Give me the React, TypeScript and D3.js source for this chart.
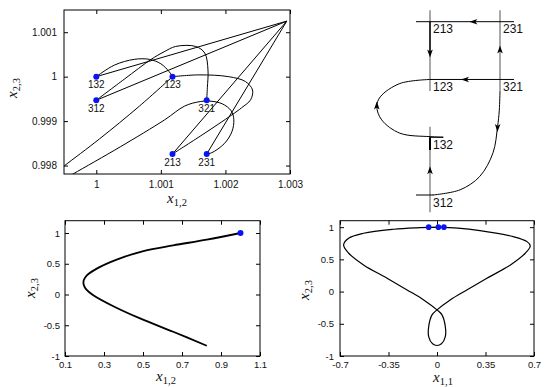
import React from 'react';
import * as d3 from 'd3';

// ---------- panel a: network near (1,1) ----------
const aXTicks = [1, 1.001, 1.002, 1.003];
const aYTicks = [0.998, 0.999, 1, 1.001];
const aNodeNames = ['132', '123', '312', '321', '213', '231'];
const aNodeX = [1, 1.00118, 1, 1.00171, 1.00118, 1.00171];
const aNodeY = [1, 1, 0.99947, 0.99947, 0.99826, 0.99826];
const aApex: [number, number] = [1.00295, 1.00125];

// connecting orbits, [x12, x23]
const arc132to123 = [[1, 1], [1.00028, 1.00026], [1.00059, 1.00039], [1.00082, 1.00039], [1.001, 1.00029], [1.00113, 1.00011], [1.00118, 1]];
const arc312to321 = [[1, 0.99947], [1.00044, 0.99995], [1.00085, 1.00039], [1.00105, 1.00056], [1.00123, 1.00068], [1.00154, 1.00068], [1.00168, 1.00053], [1.00173, 1.00015], [1.00172, 0.99975], [1.00171, 0.99947]];
const arc123toLow = [[1.00118, 1], [1.00067, 0.99934], [1.00005, 0.9986], [0.99951, 0.998], [0.99936, 0.99783]];
const arcLowTo231 = [[0.99944, 0.99764], [0.99964, 0.99781], [1.00037, 0.99842], [1.00106, 0.99903], [1.00137, 0.99934], [1.00161, 0.99944], [1.00176, 0.99945], [1.00195, 0.99939], [1.00209, 0.99923], [1.00213, 0.99903], [1.0021, 0.99876], [1.00198, 0.99849], [1.00179, 0.99829], [1.00171, 0.99826]];
const arc123to213 = [[1.00118, 1], [1.00159, 1.00004], [1.00205, 1], [1.00231, 0.99989], [1.00242, 0.9997], [1.00239, 0.99948], [1.00225, 0.9993], [1.0021, 0.99914], [1.00164, 0.99869], [1.00118, 0.99826]];

// ---------- panel b: schematic (column, row) ----------
const bNames = ['213', '231', '123', '321', '132', '312'];
const bCol = [0, 1, 0, 1, 0, 0];
const bRow = [0, 0, 1, 1, 2, 3];
const bGrayLines = [
  [[0, -0.2], [0, 1.2]],
  [[1, -0.2], [1, 1.2]],
  [[0, 1.82], [0, 3.3]],
];
const bBlackLines = [
  [[-0.2, 0], [1.2, 0]],
  [[0, 1], [1.2, 1]],
  [[0, 2], [0.19, 2]],
  [[-0.2, 3], [0.05, 3]],
];
const bLoop = [[0, 1], [-0.43, 1.07], [-0.71, 1.3], [-0.76, 1.47], [-0.69, 1.7], [-0.43, 1.93], [0, 1.99], [0.19, 2]];
const bRightCurve = [[1, 1.2], [0.99, 1.53], [0.965, 1.82], [0.9, 2.27], [0.71, 2.68], [0.43, 2.91], [0.04, 3]];
// arrows: position (col,row) and direction (dcol,drow)
const bArrows = [
  [0.62, 0, -1, 0],
  [0.5, 1, -1, 0],
  [0, 0.55, 0, 1],
  [1, 0.48, 0, -1],
  [-0.76, 1.45, 0, -1],
  [0.965, 1.84, -0.03, 1],
  [0, 2.57, 0, -1],
];

// ---------- panel c: projection on (x12, x23) ----------
const cXTicks = [0.1, 0.3, 0.5, 0.7, 0.9, 1.1];
const cYTicks = [-1, -0.5, 0, 0.5, 1];
const cX = [1.0, 0.827, 0.655, 0.502, 0.365, 0.263, 0.212, 0.196, 0.196, 0.21, 0.245, 0.348, 0.485, 0.655, 0.827];
const cY = [1.0, 0.891, 0.799, 0.707, 0.567, 0.421, 0.31, 0.23, 0.16, 0.08, -0.011, -0.19, -0.389, -0.606, -0.833];

// ---------- panel d: projection on (x11, x23) ----------
const dXTicks = [-0.7, -0.35, 0, 0.35, 0.7];
const dYTicks = [-1, -0.5, 0, 0.5, 1];
const dX = [0, 0.15, 0.31, 0.55, 0.65, 0.673, 0.637, 0.53, 0.36, 0.215, 0.095, 0, -0.036, -0.06, -0.06, -0.032, 0, 0.032, 0.06, 0.06, 0.036, 0, -0.096, -0.216, -0.36, -0.53, -0.637, -0.674, -0.638, -0.53, -0.313, -0.15, 0];
const dY = [1, 0.985, 0.946, 0.853, 0.775, 0.708, 0.595, 0.414, 0.207, 0.026, -0.129, -0.284, -0.361, -0.543, -0.698, -0.811, -0.837, -0.811, -0.698, -0.543, -0.361, -0.284, -0.129, 0.026, 0.207, 0.414, 0.595, 0.724, 0.828, 0.905, 0.967, 0.99, 1];
const dDotX = [-0.06, 0.01, 0.05];
const dDotY = [1, 1, 1];

const SANS = '"Liberation Sans", Arial, Helvetica, sans-serif';
const SERIF = '"Liberation Serif", "DejaVu Serif", serif';
const BLUE = '#0a14f0';

function drawAxes(g: any, x: any, y: any, xTicks: number[], yTicks: number[], xFmt: any, yFmt: any, fs: number, xPad: number, yPad: number) {
  const [x0, x1] = x.range();
  const [y0, y1] = y.range();
  g.append('g').attr('transform', `translate(0,${y0})`)
    .call(d3.axisBottom(x).tickValues(xTicks).tickSize(-4).tickPadding(xPad).tickFormat(xFmt));
  g.append('g').attr('transform', `translate(0,${y1})`)
    .call(d3.axisTop(x).tickValues(xTicks).tickSize(-4).tickFormat(() => ''));
  g.append('g').attr('transform', `translate(${x0},0)`)
    .call(d3.axisLeft(y).tickValues(yTicks).tickSize(-4).tickPadding(yPad).tickFormat(yFmt));
  g.append('g').attr('transform', `translate(${x1},0)`)
    .call(d3.axisRight(y).tickValues(yTicks).tickSize(-4).tickFormat(() => ''));
  g.selectAll('.domain').remove();
  g.selectAll('.tick line').attr('stroke', '#000');
  g.selectAll('.tick text').attr('font-family', SANS).attr('font-size', fs).attr('fill', '#111');
  g.append('rect')
    .attr('x', x0).attr('y', y1).attr('width', x1 - x0).attr('height', y0 - y1)
    .attr('fill', 'none').attr('stroke', '#000').attr('stroke-width', 1);
}

function axisTitle(svg: any, cx: number, cy: number, sub: string, rotate: boolean) {
  const t = svg.append('text')
    .attr('font-family', SERIF).attr('font-size', 15).attr('fill', '#111')
    .attr('text-anchor', 'middle')
    .attr('transform', rotate ? `translate(${cx},${cy}) rotate(-90)` : `translate(${cx},${cy})`);
  t.append('tspan').attr('font-style', 'italic').text('x');
  t.append('tspan').attr('font-size', 10.5).attr('dy', 3).text(sub);
}

export default function App() {
  const ref = React.useRef<SVGSVGElement>(null);

  React.useEffect(() => {
    if (!ref.current) return;
    document.body.style.margin = '0';
    const svg = d3.select(ref.current);
    svg.selectAll('*').remove();

    /* panel a */
    const ax = d3.scaleLinear().domain([0.9995, 1.003]).range([64, 290]);
    const ay = d3.scaleLinear().domain([0.99781, 1.0015]).range([174, 10]);
    const ga = svg.append('g');
    svg.append('clipPath').attr('id', 'clipA').append('rect')
      .attr('x', 64).attr('y', 10).attr('width', 226).attr('height', 164);
    const aCurves = ga.append('g').attr('clip-path', 'url(#clipA)');
    const smooth = d3.line<number[]>().x(d => ax(d[0])).y(d => ay(d[1])).curve(d3.curveCatmullRom.alpha(0.5));
    const straight = d3.line<number[]>().x(d => ax(d[0])).y(d => ay(d[1]));
    [0, 2, 4, 5].forEach(i => {
      aCurves.append('path').attr('d', straight([aApex, [aNodeX[i], aNodeY[i]]]))
        .attr('fill', 'none').attr('stroke', '#000').attr('stroke-width', 1);
    });
    [arc132to123, arc312to321, arc123toLow, arcLowTo231, arc123to213].forEach(c => {
      aCurves.append('path').attr('d', smooth(c))
        .attr('fill', 'none').attr('stroke', '#000').attr('stroke-width', 1);
    });
    drawAxes(ga, ax, ay, aXTicks, aYTicks,
      (d: number) => (d === 1 ? '1' : d3.format('.3f')(d)),
      (d: number) => (d === 1 ? '1' : d3.format('.3f')(d)), 10, 7, 7);
    aNodeNames.forEach((n, i) => {
      ga.append('circle').attr('cx', ax(aNodeX[i])).attr('cy', ay(aNodeY[i])).attr('r', 3).attr('fill', BLUE);
      ga.append('text').attr('x', ax(aNodeX[i])).attr('y', ay(aNodeY[i]) + 11.5)
        .attr('text-anchor', 'middle').attr('font-family', SANS).attr('font-size', 10).attr('fill', '#111').text(n);
    });
    axisTitle(svg, 177, 203, '1,2', false);
    axisTitle(svg, 17, 88, '2,3', true);

    /* panel b: schematic */
    const bx = d3.scaleLinear().domain([0, 1]).range([430, 500]);
    const by = d3.scaleLinear().domain([0, 3]).range([21.7, 195]);
    const gb = svg.append('g');
    const bline = d3.line<number[]>().x(d => bx(d[0])).y(d => by(d[1]));
    const bcurve = d3.line<number[]>().x(d => bx(d[0])).y(d => by(d[1])).curve(d3.curveCatmullRom.alpha(0.5));
    bGrayLines.forEach(l => gb.append('path').attr('d', bline(l)).attr('stroke', '#7a7a7a').attr('stroke-width', 1.3).attr('fill', 'none'));
    gb.append('path').attr('d', bline([[0, 0], [0, 0.55]])).attr('stroke', '#000').attr('stroke-width', 1.4).attr('fill', 'none');
    gb.append('path').attr('d', bline([[0, 2], [0, 2.22]])).attr('stroke', '#000').attr('stroke-width', 2).attr('fill', 'none');
    bBlackLines.forEach(l => gb.append('path').attr('d', bline(l)).attr('stroke', '#000').attr('stroke-width', 1).attr('fill', 'none'));
    gb.append('path').attr('d', bcurve(bLoop)).attr('stroke', '#000').attr('stroke-width', 1).attr('fill', 'none');
    gb.append('path').attr('d', bcurve(bRightCurve)).attr('stroke', '#000').attr('stroke-width', 1).attr('fill', 'none');
    bArrows.forEach(([c, r, dc, dr]) => {
      const px = bx(c), py = by(r);
      const ang = Math.atan2(dr * 57.77, dc * 70) * 180 / Math.PI;
      gb.append('path').attr('d', 'M4,0 L-4,-2.8 L-2,0 L-4,2.8 Z')
        .attr('transform', `translate(${px},${py}) rotate(${ang})`).attr('fill', '#000');
    });
    bNames.forEach((n, i) => {
      gb.append('text').attr('x', bx(bCol[i]) + 3).attr('y', by(bRow[i]) + 11.6)
        .attr('font-family', SANS).attr('font-size', 12).attr('fill', '#111').text(n);
    });

    /* panel c */
    const cx = d3.scaleLinear().domain([0.1, 1.1]).range([65, 260]);
    const cy = d3.scaleLinear().domain([-1, 1.2]).range([356, 220.7]);
    const gc = svg.append('g');
    drawAxes(gc, cx, cy, cXTicks, cYTicks, d3.format('.1f'), (d: number) => String(d), 9.5, 5, 5);
    const cLine = d3.line<number>().x(i => cx(cX[i])).y(i => cy(cY[i])).curve(d3.curveCatmullRom.alpha(0.5));
    gc.append('path').attr('d', cLine(d3.range(cX.length))).attr('fill', 'none').attr('stroke', '#000').attr('stroke-width', 1.8);
    gc.append('circle').attr('cx', cx(cX[0])).attr('cy', cy(cY[0])).attr('r', 3).attr('fill', BLUE);
    axisTitle(svg, 166, 381, '1,2', false);
    axisTitle(svg, 35, 288, '2,3', true);

    /* panel d */
    const dx = d3.scaleLinear().domain([-0.7, 0.7]).range([340, 534]);
    const dy = d3.scaleLinear().domain([-1, 1.1]).range([356, 220.7]);
    const gd = svg.append('g');
    drawAxes(gd, dx, dy, dXTicks, dYTicks, (d: number) => String(d), (d: number) => String(d), 9.5, 5, 6);
    const dLine = d3.line<number>().x(i => dx(dX[i])).y(i => dy(dY[i])).curve(d3.curveCatmullRom.alpha(0.5));
    gd.append('path').attr('d', dLine(d3.range(dX.length))).attr('fill', 'none').attr('stroke', '#000').attr('stroke-width', 1.2);
    dDotX.forEach((v, i) => {
      gd.append('circle').attr('cx', dx(v)).attr('cy', dy(dDotY[i])).attr('r', 2.8).attr('fill', BLUE);
    });
    axisTitle(svg, 443, 382, '1,1', false);
    axisTitle(svg, 309, 290, '2,3', true);
  }, []);

  return <svg ref={ref} width={548} height={387} style={{ display: 'block', background: '#fff' }} />;
}
